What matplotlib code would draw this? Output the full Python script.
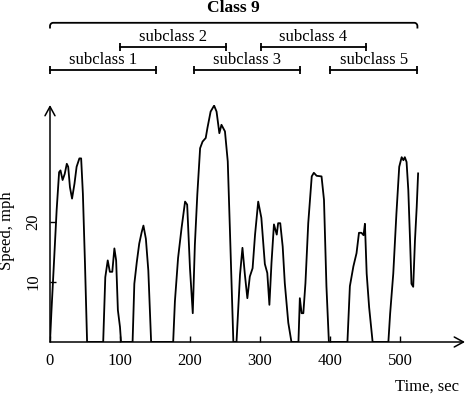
import numpy as np
import matplotlib
matplotlib.use("Agg")
import matplotlib.pyplot as plt

plt.rcParams["font.family"] = ["Liberation Serif", "DejaVu Serif"]
plt.rcParams["font.size"] = 12

# speed trace (time in sec, speed in mph)
time_s = [0, 2, 6, 9.5, 13, 15, 18, 21, 24, 26, 28.5, 31.5, 35, 38, 42, 44.5, 47, 50, 53,
          76, 79, 82.5, 85.5, 89, 92, 94.5, 97, 100, 101.5,
          118, 120.5, 124, 127.5, 131, 133.5, 137, 140.5, 144.5,
          176, 178.5, 183, 188, 193, 196, 200, 204, 207, 210.5, 214.5, 218, 222.5, 225,
          229.5, 234.5, 238, 242, 245, 250, 254, 257, 262,
          266.5, 271.5, 275, 278.5, 282, 285.5, 289.5, 293, 297.5, 302, 307, 310.5, 313.5,
          316.5, 320, 324, 326, 329, 332.5, 335.5, 340.5, 345,
          355, 357, 359.5, 362, 365, 369, 374, 377, 381, 388, 391.5, 395, 398.5,
          425, 428.5, 433.5, 438, 441.5, 445, 448, 450, 452.5, 456, 461,
          483.5, 486, 490.5, 495, 499, 502.5, 505, 507, 509.5, 512, 514.5, 516.5, 519,
          521.5, 524, 526]
speed_mph = [0, 5, 14, 22, 28.3, 28.6, 27, 28, 29.7, 29.2, 25.8, 23.9, 26.4, 29.2, 30.6, 30.6, 24.7, 13, 0,
             0, 10.8, 13.6, 11.7, 11.7, 15.6, 13.6, 5.3, 2.5, 0,
             0, 9.7, 13.3, 16.4, 18.3, 19.4, 17.2, 11.9, 0,
             0, 6.8, 14, 19, 23.4, 22.9, 12.3, 4.8, 16.2, 24.6, 32.3, 33.4, 34, 35.7,
             38.4, 39.4, 38.4, 34.8, 36.2, 35.1, 30.1, 19, 0,
             0, 11.2, 15.7, 11.2, 7.3, 10.9, 12.3, 17.9, 23.4, 20.7, 13, 11.5, 6.2,
             13.2, 19.6, 17.9, 19.8, 19.8, 15.9, 9.8, 3.2, 0,
             0, 7.3, 4.8, 4.8, 9.8, 19.8, 27.6, 28.2, 27.7, 27.6, 23.7, 9.3, 0,
             0, 9.3, 12.6, 14.8, 18.2, 18.2, 17.8, 19.7, 11.4, 5.8, 0,
             0, 4.7, 11.4, 21.4, 29.2, 30.8, 30.3, 30.8, 30, 25.3, 16.9, 9.7, 9.2,
             16.9, 22.5, 28.1]

x_ticks = [0, 100, 200, 300, 400, 500]
y_ticks = [10, 20]

class_label = "Class 9"
class_span = (0, 525)
sub_labels = ["subclass 1", "subclass 2", "subclass 3", "subclass 4", "subclass 5"]
sub_spans = [(0, 151), (100, 251), (206, 357), (301, 452), (400, 525)]

# layout (speed units above the plot box)
row_y = [45.4, 49.2]
row_text = [47.0, 50.8]
brace_y = 53.2
brace_drop = 0.95
class_text_y = 55.75

fig = plt.figure(figsize=(4.74, 3.96), dpi=100)
ax = fig.add_axes([50 / 474, 54 / 396, 415 / 474, 237 / 396])
ax.plot(time_s, speed_mph, color="black", lw=1.3, solid_joinstyle="round")
ax.set_xlim(0, 593)
ax.set_ylim(0, 39.5)

for s in ax.spines.values():
    s.set_visible(False)
arrow = dict(arrowstyle="->,head_length=0.55,head_width=0.3", lw=1.1, color="black",
             shrinkA=0, shrinkB=0)
ax.annotate("", xy=(1, 0), xytext=(0, 0), xycoords="axes fraction", arrowprops=arrow)
ax.annotate("", xy=(0, 1), xytext=(0, 0), xycoords="axes fraction", arrowprops=arrow)

ax.set_xticks(x_ticks)
ax.set_yticks(y_ticks)
ax.tick_params(direction="in", length=4, width=1, color="black", labelsize=12)
ax.tick_params(axis="x", pad=8)
ax.tick_params(axis="y", pad=6)
for lab in ax.get_yticklabels():
    lab.set_rotation(90)
    lab.set_va("center")
ax.set_ylabel("Speed, mph", fontsize=12)
ax.yaxis.set_label_coords(-0.084, 0.47)
ax.text(0.908, -0.19, "Time, sec", transform=ax.transAxes, ha="center", va="center",
        fontsize=12)

# subclass bars
for i, (lab, (a, b)) in enumerate(zip(sub_labels, sub_spans)):
    r = i % 2
    ax.plot([a, b], [row_y[r], row_y[r]], color="black", lw=1.3, clip_on=False)
    ax.plot([a, b], [row_y[r], row_y[r]], ls="", marker="|", ms=6, mew=1.3,
            color="black", clip_on=False)
    ax.text((a + b) / 2, row_text[r], lab, ha="center", va="center", fontsize=12)

# class bracket with rounded corners
a, b = class_span
rx, ry = 4.5, 0.55
th = np.linspace(0, np.pi / 2, 12)
left_x = np.r_[a, a + rx - rx * np.cos(th)]
left_y = np.r_[brace_y - brace_drop, brace_y - ry + ry * np.sin(th)]
bx = np.r_[left_x, (a + b) - left_x[::-1]]
by = np.r_[left_y, left_y[::-1]]
ax.plot(bx, by, color="black", lw=1.3, clip_on=False, solid_capstyle="butt")
ax.text((a + b) / 2, class_text_y, class_label, ha="center", va="center",
        fontsize=12.5, fontweight="bold")

fig.savefig("out.png", dpi=100)
